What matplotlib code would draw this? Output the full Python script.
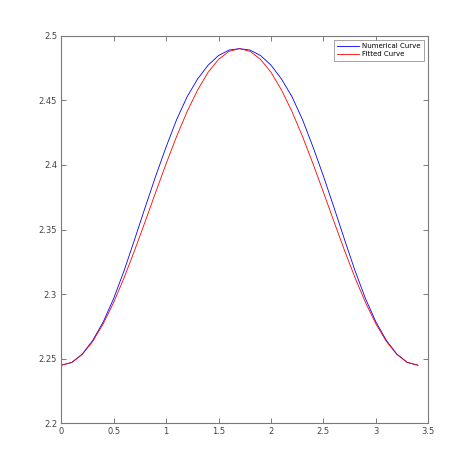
import matplotlib.pyplot as plt
from matplotlib.ticker import FuncFormatter

# sample positions along the curve
x_vals = [0.0, 0.1, 0.2, 0.3, 0.4, 0.5, 0.6, 0.7, 0.8, 0.9, 1.0, 1.1, 1.2,
          1.3, 1.4, 1.5, 1.6, 1.7, 1.8, 1.9, 2.0, 2.1, 2.2, 2.3, 2.4, 2.5,
          2.6, 2.7, 2.8, 2.9, 3.0, 3.1, 3.2, 3.3, 3.4]

# values
numerical = [2.2450, 2.2471, 2.2536, 2.2642, 2.2785, 2.2967, 2.3184, 2.3425,
             2.3672, 2.3913, 2.4140, 2.4351, 2.4528, 2.4665, 2.4772, 2.4847,
             2.4889, 2.4900, 2.4889, 2.4847, 2.4772, 2.4665, 2.4528, 2.4351,
             2.4140, 2.3913, 2.3672, 2.3425, 2.3184, 2.2967, 2.2785, 2.2642,
             2.2536, 2.2471, 2.2450]
fitted = [2.2450, 2.2471, 2.2533, 2.2634, 2.2770, 2.2937, 2.3129, 2.3340,
          2.3562, 2.3788, 2.4010, 2.4221, 2.4413, 2.4580, 2.4717, 2.4817,
          2.4879, 2.4900, 2.4879, 2.4817, 2.4717, 2.4580, 2.4413, 2.4221,
          2.4010, 2.3788, 2.3562, 2.3340, 2.3129, 2.2937, 2.2770, 2.2634,
          2.2533, 2.2471, 2.2450]

x_ticks = [0, 0.5, 1, 1.5, 2, 2.5, 3, 3.5]
y_ticks = [2.2, 2.25, 2.3, 2.35, 2.4, 2.45, 2.5]

fig = plt.figure(figsize=(4.74, 4.75), dpi=100)
ax = fig.add_axes([0.1293, 0.1088, 0.7743, 0.816])

ax.plot(x_vals, numerical, color='#0000ff', linewidth=0.6, label='Numerical Curve')
ax.plot(x_vals, fitted, color='#ff0000', linewidth=0.6, label='Fitted Curve')

ax.set_xlim(0, 3.5)
ax.set_ylim(2.2, 2.5)
ax.set_xticks(x_ticks)
ax.set_yticks(y_ticks)
fmt = FuncFormatter(lambda v, p: '%g' % v)
ax.xaxis.set_major_formatter(fmt)
ax.yaxis.set_major_formatter(fmt)

# matlab-like box with inward ticks on all sides
axis_col = '#7a7a7a'
for s in ax.spines.values():
    s.set_color(axis_col)
    s.set_linewidth(0.8)
ax.tick_params(direction='in', length=3.5, width=0.7, color=axis_col,
               labelsize=6, labelcolor='#444444', top=True, right=True, pad=3)

leg = ax.legend(loc='upper right', fontsize=5, frameon=True, fancybox=False,
                handlelength=3.2, handletextpad=0.4, borderpad=0.5,
                labelspacing=0.3, borderaxespad=0.6)
leg.get_frame().set_edgecolor(axis_col)
leg.get_frame().set_linewidth(0.6)

fig.savefig('out.png', dpi=100)
